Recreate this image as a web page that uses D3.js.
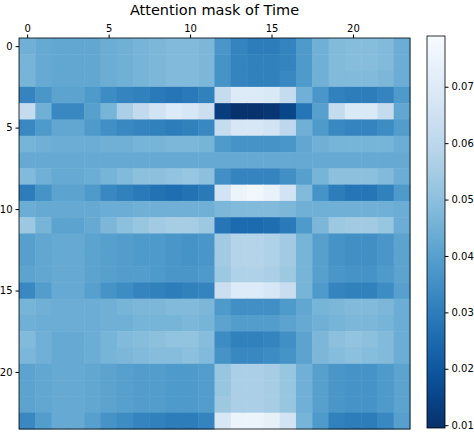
<!DOCTYPE html>
<html><head><meta charset="utf-8">
<script src="https://cdn.jsdelivr.net/npm/d3@7"></script>
<style>body{margin:0;background:#fff}text{font-family:"DejaVu Sans",sans-serif}</style>
</head><body>
<script>
const title = "Attention mask of Time"
const xTicks = [0, 5, 10, 15, 20]
const yTicks = [0, 5, 10, 15, 20]
const cbTicks = [0.01, 0.02, 0.03, 0.04, 0.05, 0.06, 0.07]

// attention weights, one row per query step
const attention = [
  [0.045,0.043,0.042,0.042,0.042,0.044,0.045,0.046,0.047,0.048,0.048,0.047,0.037,0.032,0.030,0.030,0.032,0.038,0.045,0.048,0.049,0.049,0.048,0.044],
  [0.046,0.043,0.042,0.042,0.042,0.044,0.045,0.046,0.047,0.048,0.048,0.047,0.036,0.032,0.031,0.031,0.032,0.038,0.045,0.048,0.049,0.049,0.048,0.044],
  [0.046,0.043,0.042,0.042,0.042,0.044,0.045,0.046,0.047,0.048,0.048,0.047,0.036,0.032,0.031,0.031,0.033,0.038,0.045,0.048,0.048,0.048,0.047,0.044],
  [0.032,0.037,0.041,0.041,0.038,0.034,0.032,0.031,0.029,0.028,0.029,0.031,0.062,0.070,0.070,0.069,0.062,0.045,0.037,0.031,0.030,0.030,0.032,0.038],
  [0.062,0.045,0.033,0.033,0.040,0.046,0.056,0.061,0.066,0.070,0.068,0.064,0.013,0.010,0.010,0.011,0.015,0.028,0.040,0.062,0.069,0.069,0.062,0.042],
  [0.033,0.038,0.042,0.042,0.038,0.035,0.033,0.032,0.031,0.030,0.031,0.033,0.062,0.068,0.068,0.066,0.060,0.045,0.038,0.033,0.032,0.032,0.034,0.039],
  [0.046,0.045,0.044,0.044,0.044,0.045,0.045,0.046,0.046,0.047,0.047,0.046,0.038,0.036,0.036,0.036,0.037,0.042,0.045,0.046,0.046,0.046,0.046,0.044],
  [0.043,0.043,0.043,0.043,0.043,0.043,0.043,0.043,0.043,0.043,0.043,0.043,0.043,0.043,0.043,0.043,0.043,0.043,0.043,0.043,0.043,0.043,0.043,0.043],
  [0.048,0.045,0.043,0.043,0.044,0.046,0.048,0.050,0.050,0.051,0.052,0.050,0.035,0.032,0.032,0.032,0.035,0.040,0.046,0.050,0.050,0.050,0.048,0.044],
  [0.030,0.036,0.041,0.041,0.038,0.033,0.031,0.029,0.027,0.026,0.027,0.029,0.066,0.075,0.077,0.074,0.066,0.048,0.036,0.030,0.028,0.028,0.031,0.038],
  [0.044,0.043,0.043,0.043,0.043,0.044,0.044,0.045,0.045,0.045,0.045,0.045,0.047,0.048,0.048,0.048,0.047,0.045,0.045,0.045,0.045,0.045,0.045,0.044],
  [0.053,0.046,0.041,0.041,0.043,0.047,0.050,0.052,0.054,0.055,0.055,0.053,0.028,0.025,0.025,0.026,0.029,0.038,0.047,0.053,0.054,0.054,0.052,0.044],
  [0.040,0.042,0.043,0.043,0.041,0.040,0.039,0.038,0.038,0.037,0.036,0.037,0.054,0.058,0.058,0.057,0.054,0.046,0.040,0.036,0.035,0.035,0.037,0.041],
  [0.040,0.042,0.043,0.043,0.041,0.040,0.039,0.038,0.038,0.037,0.036,0.037,0.054,0.058,0.058,0.057,0.054,0.046,0.040,0.036,0.035,0.035,0.037,0.041],
  [0.041,0.042,0.043,0.043,0.041,0.040,0.039,0.039,0.038,0.037,0.037,0.038,0.053,0.057,0.057,0.056,0.053,0.046,0.040,0.037,0.036,0.036,0.038,0.041],
  [0.033,0.039,0.043,0.043,0.040,0.036,0.034,0.032,0.031,0.030,0.031,0.032,0.064,0.070,0.070,0.068,0.063,0.046,0.038,0.032,0.031,0.031,0.034,0.040],
  [0.046,0.045,0.044,0.044,0.044,0.045,0.046,0.047,0.047,0.048,0.048,0.047,0.038,0.035,0.035,0.035,0.038,0.042,0.046,0.047,0.048,0.048,0.047,0.044],
  [0.045,0.044,0.044,0.044,0.044,0.045,0.045,0.046,0.046,0.046,0.047,0.046,0.041,0.039,0.039,0.039,0.041,0.043,0.045,0.046,0.047,0.047,0.046,0.044],
  [0.048,0.045,0.043,0.043,0.044,0.046,0.048,0.049,0.050,0.051,0.051,0.049,0.034,0.031,0.031,0.032,0.035,0.041,0.047,0.050,0.051,0.050,0.048,0.044],
  [0.047,0.045,0.043,0.043,0.044,0.046,0.047,0.048,0.049,0.049,0.050,0.048,0.036,0.033,0.033,0.034,0.036,0.041,0.047,0.049,0.050,0.049,0.048,0.044],
  [0.041,0.042,0.043,0.043,0.042,0.041,0.040,0.039,0.039,0.038,0.038,0.039,0.052,0.056,0.056,0.055,0.052,0.045,0.040,0.037,0.036,0.036,0.038,0.041],
  [0.041,0.042,0.043,0.043,0.042,0.041,0.040,0.039,0.039,0.038,0.038,0.039,0.052,0.056,0.056,0.055,0.052,0.045,0.040,0.037,0.036,0.036,0.038,0.041],
  [0.041,0.042,0.043,0.043,0.042,0.041,0.040,0.039,0.039,0.038,0.038,0.039,0.053,0.056,0.056,0.055,0.052,0.045,0.040,0.037,0.036,0.036,0.038,0.041],
  [0.033,0.039,0.043,0.043,0.040,0.036,0.034,0.032,0.031,0.030,0.030,0.032,0.068,0.075,0.075,0.073,0.066,0.046,0.038,0.031,0.030,0.030,0.033,0.040]
]

const svgWidth = 474
const svgHeight = 432
const plot = {left: 19, top: 38, size: 391}
const cb = {left: 427, width: 18, top: 36, bottom: 428}
const vMin = 0.0095, vMax = 0.079

const n = attention.length
const band = d3.scaleBand().domain(d3.range(n)).range([0, plot.size])
const color = v => d3.interpolateBlues(1 - (v - vMin) / (vMax - vMin))

const svg = d3.select("body").append("svg")
  .attr("width", svgWidth).attr("height", svgHeight)

svg.append("text").attr("x", plot.left + plot.size / 2).attr("y", 15)
  .attr("text-anchor", "middle").attr("font-size", 14.5).text(title)

const g = svg.append("g").attr("transform", `translate(${plot.left},${plot.top})`)

const cells = attention.flatMap((row, r) => row.map((v, c) => ({r, c, v})))
g.selectAll("rect.cell").data(cells).enter().append("rect")
  .attr("x", d => band(d.c)).attr("y", d => band(d.r))
  .attr("width", band.bandwidth() + 0.5).attr("height", band.bandwidth() + 0.5)
  .attr("fill", d => color(d.v))

g.append("rect").attr("width", plot.size).attr("height", plot.size)
  .attr("fill", "none").attr("stroke", "#000").attr("stroke-width", 0.8)

const pos = d3.scaleLinear().domain([0, n - 1])
  .range([band.bandwidth() / 2, plot.size - band.bandwidth() / 2])

const xAxis = g.append("g").call(d3.axisTop(pos).tickValues(xTicks).tickSize(3.5).tickPadding(3))
const yAxis = g.append("g").call(d3.axisLeft(pos).tickValues(yTicks).tickSize(3.5).tickPadding(3))
;[xAxis, yAxis].forEach(a => {
  a.select(".domain").remove()
  a.selectAll("text").attr("font-size", 10).attr("fill", "#000").attr("font-family", "DejaVu Sans")
})

// colorbar
const cbScale = d3.scaleLinear().domain([vMin, vMax]).range([cb.bottom, cb.top])
const grad = svg.append("defs").append("linearGradient").attr("id", "cbgrad")
  .attr("x1", 0).attr("y1", 1).attr("x2", 0).attr("y2", 0)
d3.range(0, 1.0001, 0.05).forEach(t => {
  grad.append("stop").attr("offset", t).attr("stop-color", color(vMin + t * (vMax - vMin)))
})
svg.append("rect").attr("x", cb.left).attr("y", cb.top)
  .attr("width", cb.width).attr("height", cb.bottom - cb.top)
  .attr("fill", "url(#cbgrad)").attr("stroke", "#000").attr("stroke-width", 0.8)
const cbAxis = svg.append("g").attr("transform", `translate(${cb.left + cb.width},0)`)
  .call(d3.axisRight(cbScale).tickValues(cbTicks).tickFormat(d3.format(".2f")).tickSize(3.5).tickPadding(3))
cbAxis.select(".domain").remove()
cbAxis.selectAll("text").attr("font-size", 10).attr("fill", "#000").attr("font-family", "DejaVu Sans")
</script>
</body></html>
